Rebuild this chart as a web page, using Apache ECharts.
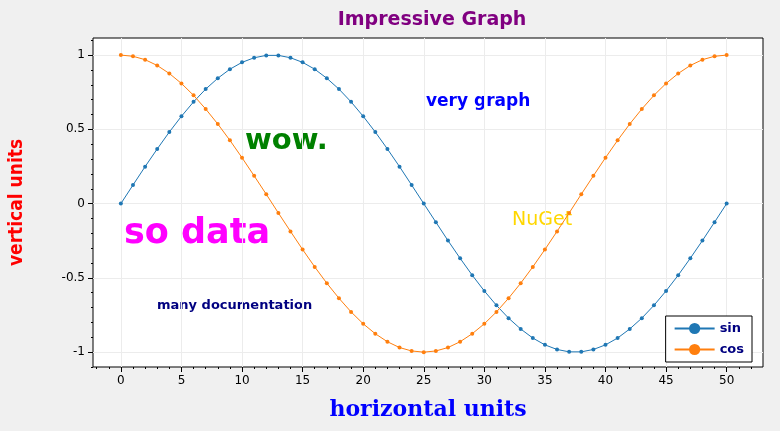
<!DOCTYPE html>
<html>
<head>
<meta charset="utf-8">
<script src="https://cdn.jsdelivr.net/npm/echarts@6/dist/echarts.min.js"></script>
<style>
  html, body { margin: 0; padding: 0; background: #f0f0f0; }
  #chart { width: 780px; height: 431px; }
</style>
</head>
<body>
<div id="chart"></div>
<script>
// 数据
const xs = [];
for (let i = 0; i <= 50; i++) xs.push(i);
const sinVals = [0, 0.125, 0.249, 0.368, 0.482, 0.588, 0.685, 0.771, 0.844, 0.905, 0.951, 0.982, 0.998,
  0.998, 0.982, 0.951, 0.905, 0.844, 0.771, 0.685, 0.588, 0.482, 0.368, 0.249, 0.125, 0,
  -0.125, -0.249, -0.368, -0.482, -0.588, -0.685, -0.771, -0.844, -0.905, -0.951, -0.982, -0.998,
  -0.998, -0.982, -0.951, -0.905, -0.844, -0.771, -0.685, -0.588, -0.482, -0.368, -0.249, -0.125, 0];
const cosVals = [1, 0.992, 0.969, 0.930, 0.876, 0.809, 0.729, 0.637, 0.536, 0.426, 0.309, 0.187, 0.063,
  -0.063, -0.187, -0.309, -0.426, -0.536, -0.637, -0.729, -0.809, -0.876, -0.930, -0.969, -0.992, -1,
  -0.992, -0.969, -0.930, -0.876, -0.809, -0.729, -0.637, -0.536, -0.426, -0.309, -0.187, -0.063,
  0.063, 0.187, 0.309, 0.426, 0.536, 0.637, 0.729, 0.809, 0.876, 0.930, 0.969, 0.992, 1];
const xTicks = [0, 5, 10, 15, 20, 25, 30, 35, 40, 45, 50];
const xMinor = [-2, -1, 0, 1, 2, 3, 4, 5, 6, 7, 8, 9, 10, 11, 12, 13, 14, 15, 16, 17, 18, 19, 20, 21, 22, 23, 24, 25, 26, 27, 28, 29, 30, 31, 32, 33, 34, 35, 36, 37, 38, 39, 40, 41, 42, 43, 44, 45, 46, 47, 48, 49, 50, 51, 52];
const yTicks = [-1, -0.5, 0, 0.5, 1];
const yMinor = [-1.1, -1, -0.9, -0.8, -0.7, -0.6, -0.5, -0.4, -0.3, -0.2, -0.1, 0, 0.1, 0.2, 0.3, 0.4, 0.5, 0.6, 0.7, 0.8, 0.9, 1, 1.1];

const fnt = '"Comic Sans MS", "DejaVu Sans", sans-serif';
const chart = echarts.init(document.getElementById('chart'));
const pair = (a) => xs.map((x, i) => [x, a[i]]);

const option = {
  backgroundColor: '#f0f0f0',
  animation: false,
  title: {
    text: 'Impressive Graph', left: 427, top: 6, textAlign: 'center',
    textStyle: { color: '#800080', fontSize: 19, fontWeight: 'bold', fontFamily: fnt }
  },
  grid: { left: 92, right: 17, top: 38, bottom: 64, show: true, backgroundColor: '#fff', borderColor: '#000', borderWidth: 1 },
  legend: {
    orient: 'vertical', right: 28, bottom: 69, backgroundColor: '#fff', borderColor: '#000', borderWidth: 1,
    borderRadius: 0, padding: [6, 8], itemGap: 8, itemWidth: 40,
    textStyle: { fontSize: 13, fontWeight: 'bold', color: '#000080', fontFamily: fnt }
  },
  xAxis: [{
    type: 'value', min: -2.3, max: 53,
    name: 'horizontal units', nameLocation: 'middle', nameGap: 32,
    nameTextStyle: { color: '#0000ff', fontSize: 22, fontWeight: 'bold', fontFamily: '"DejaVu Serif", serif' },
    axisLine: { show: false, onZero: false },
    axisTick: { customValues: xTicks, length: 5, lineStyle: { color: '#000' } },
    axisLabel: { customValues: xTicks, color: '#000', fontSize: 12, fontFamily: fnt, margin: 8 },
    splitLine: { show: true, lineStyle: { color: '#ececec' } }
  }, {
    type: 'value', min: -2.3, max: 53, position: 'bottom',
    axisLine: { show: false, onZero: false }, axisLabel: { show: false }, splitLine: { show: false },
    axisTick: { customValues: xMinor, length: 2, lineStyle: { color: '#000' } }
  }],
  yAxis: [{
    type: 'value', min: -1.1, max: 1.115,
    name: 'vertical units', nameLocation: 'middle', nameGap: 66,
    nameTextStyle: { color: '#ff0000', fontSize: 19, fontWeight: 'bold', fontFamily: '"DejaVu Sans Condensed", sans-serif' },
    axisLine: { show: false, onZero: false },
    axisTick: { customValues: yTicks, length: 5, lineStyle: { color: '#000' } },
    axisLabel: { customValues: yTicks, color: '#000', fontSize: 12, fontFamily: fnt, margin: 8 },
    splitLine: { show: true, lineStyle: { color: '#ececec' } }
  }, {
    type: 'value', min: -1.1, max: 1.115, position: 'left',
    axisLine: { show: false, onZero: false }, axisLabel: { show: false }, splitLine: { show: false },
    axisTick: { customValues: yMinor, length: 2, lineStyle: { color: '#000' } }
  }],
  series: [
    { name: 'sin', type: 'line', data: pair(sinVals), color: '#1f77b4', symbol: 'circle', symbolSize: 4, lineStyle: { width: 1 } },
    { name: 'cos', type: 'line', data: pair(cosVals), color: '#ff7f0e', symbol: 'circle', symbolSize: 4, lineStyle: { width: 1 } }
  ],
  graphic: [
    { type: 'text', left: 426, top: 93, style: { text: 'very graph', fill: '#0000ff', font: 'bold 17px ' + fnt } },
    { type: 'text', left: 245, top: 127, style: { text: 'wow.', fill: '#008000', font: 'bold 29px ' + fnt } },
    { type: 'text', left: 124, top: 216, style: { text: 'so data', fill: '#ff00ff', font: 'bold 35px ' + fnt } },
    { type: 'text', left: 512, top: 211, style: { text: 'NuGet', fill: '#ffd700', font: '19px ' + fnt } },
    { type: 'text', left: 157, top: 299, style: { text: 'many documentation', fill: '#000080', font: 'bold 13px ' + fnt } }
  ]
};
chart.setOption(option);
</script>
</body>
</html>
